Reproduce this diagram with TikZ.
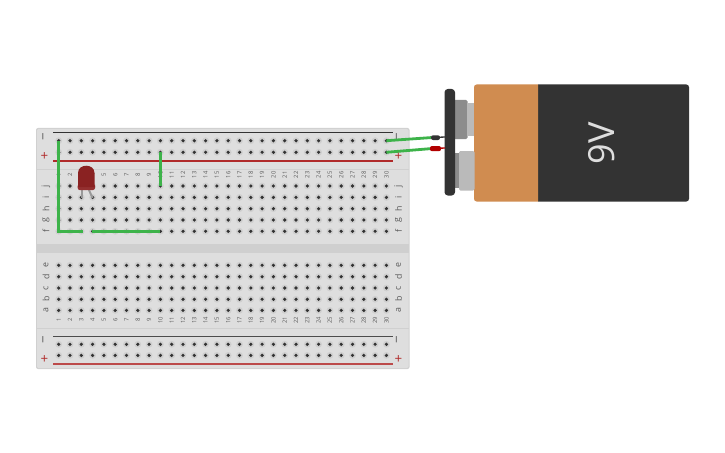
\documentclass[tikz,border=0pt]{standalone}
\usepackage{fontspec}
\setmainfont{Open Sans}
\definecolor{boardgrey}{HTML}{DEDEDE}
\definecolor{boardedge}{HTML}{D0D0D0}
\definecolor{slotgrey}{HTML}{CFCFCF}
\definecolor{holering}{HTML}{CFCFCF}
\definecolor{holedark}{HTML}{333333}
\definecolor{labelgrey}{HTML}{5A5A5A}
\definecolor{railred}{HTML}{B02A2A}
\definecolor{wiregreen}{HTML}{3DB34A}
\definecolor{ledred}{HTML}{8A2222}
\definecolor{ledrim}{HTML}{943030}
\definecolor{legrey}{HTML}{999999}
\definecolor{batorange}{HTML}{D08C50}
\definecolor{batdark}{HTML}{333333}
\tikzset{
  hole/.pic={\fill[holering] (0,0) circle (3.4); \fill[holedark] (0,0) circle (1.8);},
  num/.style={font=\fontsize{4.4pt}{5pt}\selectfont,text=labelgrey,rotate=90,inner sep=0pt},
  letter/.style={font=\fontsize{6.6pt}{7pt}\selectfont,text=labelgrey,rotate=90,inner sep=0pt},
  plus/.style={font=\fontsize{10pt}{11pt}\selectfont,text=railred,inner sep=0pt},
  minus/.style={font=\fontsize{10pt}{11pt}\selectfont,text=labelgrey,rotate=90,inner sep=0pt},
  wire/.style={draw=wiregreen,line width=2.1pt,line join=miter},
  leg/.style={draw=legrey,line width=1.5pt},
}
\begin{document}
\begin{tikzpicture}[x=0.75pt,y=-0.75pt]
\useasboundingbox (0,0) rectangle (725,453);

% breadboard
\fill[boardedge] (36,128) [rounded corners=1.5pt] rectangle (409.5,369);
\fill[boardgrey] (37,129) [rounded corners=1pt] rectangle (408.5,368);
\fill[slotgrey] (37,244) rectangle (408.5,253);
\draw[boardedge,line width=0.6pt] (37,169) -- (408.5,169);
\draw[boardedge,line width=0.6pt] (37,328) -- (408.5,328);
\draw[black!80,line width=0.7pt] (53,132) -- (393,132);
\draw[railred,line width=0.8pt] (53,161) -- (393,161);
\draw[black!70,line width=0.7pt] (53,336.5) -- (393,336.5);
\draw[railred!85,line width=0.8pt] (53,364) -- (393,364);

% holes, named row-column
\foreach \r/\y in {t/140.7,u/152.3,j/186,i/197.4,h/208.7,g/220,f/231.3,e/265.3,d/276.7,c/288,b/299.3,a/310.4,v/344.3,w/355.4}{
  \foreach \c in {1,...,30}{
    \coordinate (\r\c) at ({58.7+(\c-1)*11.3},\y);
    \pic at (\r\c) {hole};
  }
}

% numbers
\foreach \c in {1,...,30}{
  \node[num] (nt\c) at ({58.7+(\c-1)*11.3},175) {\c};
  \node[num] (nb\c) at ({58.7+(\c-1)*11.3},320) {\c};
}

% row letters
\foreach \r/\y in {j/186,i/197.4,h/208.7,g/220,f/231.3,e/265.3,d/276.7,c/288,b/299.3,a/310.4}{
  \node[letter] (ll\r) at (46,\y) {\r};
  \node[letter] (lr\r) at (398.5,\y) {\r};
}

% rail signs
\node[minus] (m1) at (45,137) {−};
\node[minus] (m2) at (398.5,137) {−};
\node[minus] (m3) at (45,340) {−};
\node[minus] (m4) at (398.5,340) {−};
\node[plus] (p1) at (44.5,157) {+};
\node[plus] (p2) at (398.5,157) {+};
\node[plus] (p3) at (44.5,360) {+};
\node[plus] (p4) at (398.5,360) {+};

% led
\coordinate (ka) at (81.5,190);
\coordinate (an) at (89,190);
\coordinate (kb) at (81.5,198);
\coordinate (ab) at (92.5,198);
\draw[leg] (ka) -- (kb);
\draw[leg] (an) -- (ab);
\fill[ledrim] (77.7,184) [rounded corners=1.5pt] rectangle (95,190);
\fill[ledred] (78,187) -- (78,173) .. controls (78,163.3) and (94.5,163.3) .. (94.5,173) -- (94.5,187) -- cycle;

% wires on the board
\coordinate (f3e) at (83,231.3);
\coordinate (f4s) at (92,231.3);
\draw[wire] (t1) -- (f1) -- (f3e);
\draw[wire] (f4s) -- (f10);
\draw[wire] (u10) -- (j10);

% battery
\fill[batdark] (538,84.5) [rounded corners=2pt] -- (689,84.5) -- (689,201.5) [sharp corners] -- (538,201.5) -- cycle;
\fill[batorange] (538,84.5) [rounded corners=2pt] -- (474,84.5) -- (474,201.5) [sharp corners] -- (538,201.5) -- cycle;
\node[rotate=90,text=white!87!black,inner sep=0pt,font=\fontsize{27pt}{29pt}\selectfont] (volt) at (601.5,143) {9V};

% snap connector
\fill[black!45!white] (453,100) [rounded corners=1pt] rectangle (467.5,139);
\fill[black!27!white] (467,103) rectangle (474,136);
\fill[black!45!white] (453,153) rectangle (460,188);
\fill[black!27!white] (459,151) [rounded corners=1pt] rectangle (474.5,190.5);
\fill[batdark] (444.5,89) [rounded corners=2.5pt] rectangle (455,195.5);

% battery leads
\coordinate (bn) at (445,137);
\coordinate (br) at (445,148);
\coordinate (tn) at (431,137.6);
\coordinate (tr) at (431,148.6);
\draw[wire] (t30) -- (tn);
\draw[wire] (u30) -- (tr);
\draw[batdark,line width=1pt] (tn) -- (bn);
\draw[red!70!black,line width=1pt] (tr) -- (br);
\fill[batdark] (431,135.3) [rounded corners=1.5pt] rectangle (440,140);
\fill[red!70!black] (430,146) [rounded corners=1.5pt] rectangle (441,151.2);
\end{tikzpicture}
\end{document}
